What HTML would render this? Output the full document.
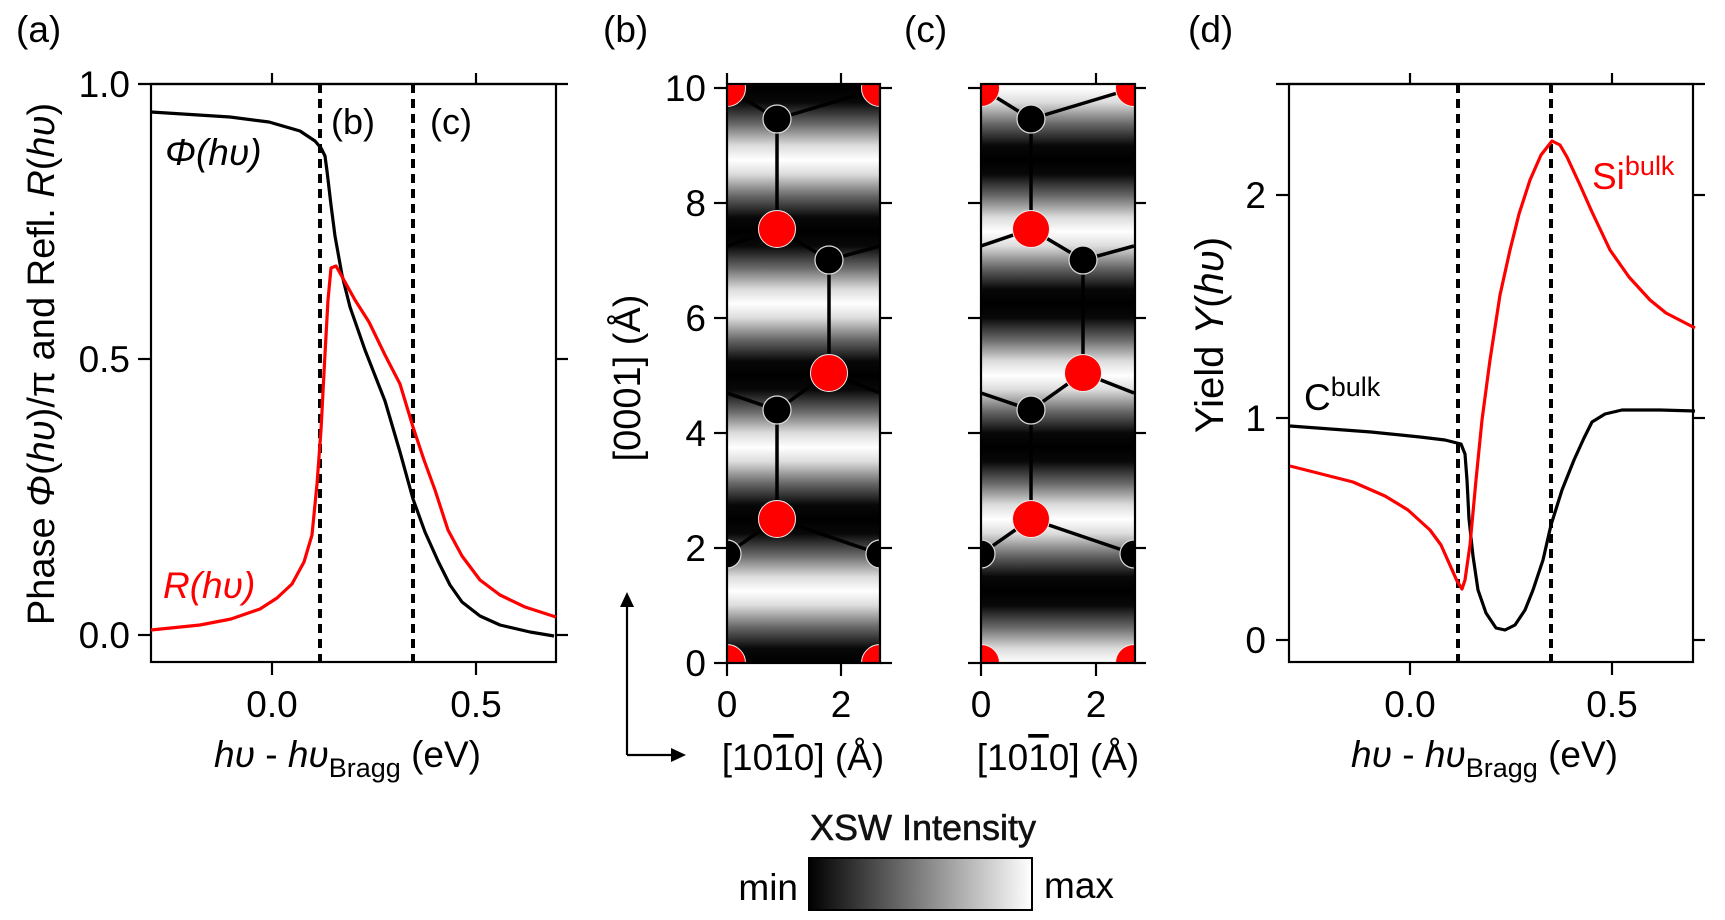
<!DOCTYPE html>
<html><head><meta charset="utf-8"><style>
html,body{margin:0;padding:0;background:#fff;}
svg{display:block;font-family:"Liberation Sans",sans-serif;}
</style></head><body>
<svg width="1725" height="920" viewBox="0 0 1725 920" xmlns="http://www.w3.org/2000/svg">
<defs>
<linearGradient id="gb" gradientUnits="userSpaceOnUse" x1="0" y1="663" x2="0" y2="519.25" spreadMethod="repeat">
<stop offset="0" stop-color="#000"/><stop offset="0.1" stop-color="#080808"/><stop offset="0.25" stop-color="#686868"/><stop offset="0.4" stop-color="#dcdcdc"/><stop offset="0.5" stop-color="#fff"/><stop offset="0.6" stop-color="#dcdcdc"/><stop offset="0.75" stop-color="#686868"/><stop offset="0.9" stop-color="#080808"/><stop offset="1" stop-color="#000"/>
</linearGradient>
<linearGradient id="gc" gradientUnits="userSpaceOnUse" x1="0" y1="591.1" x2="0" y2="447.35" spreadMethod="repeat">
<stop offset="0" stop-color="#000"/><stop offset="0.1" stop-color="#080808"/><stop offset="0.25" stop-color="#686868"/><stop offset="0.4" stop-color="#dcdcdc"/><stop offset="0.5" stop-color="#fff"/><stop offset="0.6" stop-color="#dcdcdc"/><stop offset="0.75" stop-color="#686868"/><stop offset="0.9" stop-color="#080808"/><stop offset="1" stop-color="#000"/>
</linearGradient>
<linearGradient id="cb" x1="0" y1="0" x2="1" y2="0">
<stop offset="0" stop-color="#000"/><stop offset="1" stop-color="#fff"/>
</linearGradient>
<clipPath id="clb"><rect x="727" y="84" width="153" height="579"/></clipPath>
<clipPath id="clc"><rect x="981" y="84" width="154" height="579"/></clipPath>
<g id="atoms">
<g stroke="#000" stroke-width="3.5" fill="none">
<line x1="50" y1="-544" x2="0" y2="-575"/>
<line x1="50" y1="-544" x2="153" y2="-575"/>
<line x1="50" y1="-544" x2="50" y2="-434"/>
<line x1="50" y1="-434" x2="102" y2="-403"/>
<line x1="50" y1="-434" x2="0" y2="-417"/>
<line x1="102" y1="-403" x2="153" y2="-417"/>
<line x1="102" y1="-403" x2="102" y2="-290"/>
<line x1="102" y1="-290" x2="50" y2="-253"/>
<line x1="102" y1="-290" x2="153" y2="-270"/>
<line x1="50" y1="-253" x2="0" y2="-270"/>
<line x1="50" y1="-253" x2="50" y2="-144"/>
<line x1="50" y1="-144" x2="0" y2="-109"/>
<line x1="50" y1="-144" x2="153" y2="-109"/>
</g>
<g fill="#000" stroke="#ddd" stroke-width="1.2">
<circle cx="50" cy="-544" r="14"/><circle cx="102" cy="-403" r="14"/><circle cx="50" cy="-253" r="14"/>
<circle cx="0" cy="-109" r="14"/><circle cx="153" cy="-109" r="14"/>
</g>
<g fill="#f00" stroke="#eee" stroke-width="1">
<circle cx="50" cy="-434" r="18.5"/><circle cx="102" cy="-290" r="18.5"/><circle cx="50" cy="-144" r="18.5"/>
<circle cx="0" cy="0" r="18.5"/><circle cx="153" cy="0" r="18.5"/><circle cx="0" cy="-575" r="18.5"/><circle cx="153" cy="-575" r="18.5"/>
</g>
</g>
</defs>

<g font-size="37" fill="#000">
<text x="16" y="42">(a)</text>
<text x="603" y="42">(b)</text>
<text x="904" y="42">(c)</text>
<text x="1188" y="42">(d)</text>
</g>

<!-- ===== Panel (a) ===== -->
<g stroke="#000" stroke-width="2.2" fill="none">
<line x1="138" y1="84" x2="568" y2="84"/>
<rect x="151" y="84" width="405" height="578"/>
<line x1="138" y1="635" x2="151" y2="635"/><line x1="138" y1="359" x2="151" y2="359"/>
<line x1="556" y1="635" x2="568" y2="635"/><line x1="556" y1="359" x2="568" y2="359"/>
<line x1="272" y1="84" x2="272" y2="73"/><line x1="476" y1="84" x2="476" y2="73"/>
<line x1="272" y1="662" x2="272" y2="675"/><line x1="476" y1="662" x2="476" y2="675"/>
</g>
<g stroke="#000" stroke-width="4" stroke-dasharray="9,6">
<line x1="320" y1="84" x2="320" y2="662"/><line x1="413" y1="84" x2="413" y2="662"/>
</g>
<path d="M151,112 L230,117 L269,122 L300,131 L315,141 L321,148 L325,156 L327,171 L331,205 L335,236 L342,275 L350,307 L365,350 L385,401 L400,452 L413,499 L425,532 L438,561 L450,585 L462,602 L480,616 L500,625 L530,632 L554,636" fill="none" stroke="#000" stroke-width="3.2" stroke-linejoin="round"/>
<path d="M151,630 L200,625 L231,619 L260,609 L277,598 L292,584 L304,562 L312,535 L317,484 L321,430 L325,354 L328,300 L331,268 L336,266 L340,273 L355,300 L369,322 L385,355 L400,384 L413,427 L424,460 L435,490 L448,530 L462,556 L480,580 L500,595 L525,607 L556,617" fill="none" stroke="#f00" stroke-width="3.2" stroke-linejoin="round"/>
<g font-size="37" fill="#000" text-anchor="end">
<text x="130" y="97">1.0</text><text x="130" y="372">0.5</text><text x="130" y="648">0.0</text>
</g>
<g font-size="37" fill="#000" text-anchor="middle">
<text x="272" y="717">0.0</text><text x="476" y="717">0.5</text>
</g>
<text x="214" y="767" font-size="37"><tspan font-style="italic">hυ</tspan> - <tspan font-style="italic">hυ</tspan><tspan font-size="27" dy="10">Bragg</tspan><tspan dy="-10"> (eV)</tspan></text>
<text transform="translate(54,364) rotate(-90)" font-size="38" text-anchor="middle">Phase <tspan font-style="italic">Φ</tspan>(<tspan font-style="italic">hυ</tspan>)/π and Refl. <tspan font-style="italic">R</tspan>(<tspan font-style="italic">hυ</tspan>)</text>
<text x="165" y="165" font-size="37" font-style="italic">Φ(hυ)</text>
<text x="163" y="598" font-size="37" font-style="italic" fill="#f00">R(hυ)</text>
<text x="331" y="134" font-size="36">(b)</text>
<text x="430" y="134" font-size="36">(c)</text>

<!-- ===== Panel (b) ===== -->
<rect x="727" y="84" width="153" height="579" fill="url(#gb)"/>
<g clip-path="url(#clb)"><use href="#atoms" transform="translate(727,663)"/></g>
<g stroke="#000" stroke-width="2.2" fill="none">
<rect x="727" y="84" width="153" height="579"/>
<line x1="714" y1="88" x2="727" y2="88"/><line x1="714" y1="203" x2="727" y2="203"/><line x1="714" y1="318" x2="727" y2="318"/><line x1="714" y1="433" x2="727" y2="433"/><line x1="714" y1="548" x2="727" y2="548"/><line x1="714" y1="663" x2="727" y2="663"/>
<line x1="880" y1="88" x2="892" y2="88"/><line x1="880" y1="203" x2="892" y2="203"/><line x1="880" y1="318" x2="892" y2="318"/><line x1="880" y1="433" x2="892" y2="433"/><line x1="880" y1="548" x2="892" y2="548"/><line x1="880" y1="663" x2="892" y2="663"/>
<line x1="727" y1="84" x2="727" y2="73"/><line x1="841" y1="84" x2="841" y2="73"/>
<line x1="727" y1="663" x2="727" y2="676"/><line x1="841" y1="663" x2="841" y2="676"/>
</g>
<g font-size="37" text-anchor="end">
<text x="706" y="101">10</text><text x="706" y="216">8</text><text x="706" y="331">6</text><text x="706" y="446">4</text><text x="706" y="561">2</text><text x="706" y="676">0</text>
</g>
<g font-size="37" text-anchor="middle">
<text x="727" y="717">0</text><text x="841" y="717">2</text>
</g>
<text x="803" y="770" font-size="37" text-anchor="middle">[10<tspan text-decoration="overline">1</tspan>0] (Å)</text>
<text transform="translate(640,378) rotate(-90)" font-size="38" text-anchor="middle">[0001] (Å)</text>
<g stroke="#000" stroke-width="2.2"><line x1="627" y1="755" x2="627" y2="603"/><line x1="627" y1="755" x2="676" y2="755"/></g>
<polygon points="627,592 620,607 634,607" fill="#000"/>
<polygon points="686,755 671,748 671,762" fill="#000"/>

<!-- ===== Panel (c) ===== -->
<rect x="981" y="84" width="154" height="579" fill="url(#gc)"/>
<g clip-path="url(#clc)"><use href="#atoms" transform="translate(981,663)"/></g>
<g stroke="#000" stroke-width="2.2" fill="none">
<rect x="981" y="84" width="154" height="579"/>
<line x1="968" y1="88" x2="981" y2="88"/><line x1="968" y1="203" x2="981" y2="203"/><line x1="968" y1="318" x2="981" y2="318"/><line x1="968" y1="433" x2="981" y2="433"/><line x1="968" y1="548" x2="981" y2="548"/><line x1="968" y1="663" x2="981" y2="663"/>
<line x1="1135" y1="88" x2="1146" y2="88"/><line x1="1135" y1="203" x2="1146" y2="203"/><line x1="1135" y1="318" x2="1146" y2="318"/><line x1="1135" y1="433" x2="1146" y2="433"/><line x1="1135" y1="548" x2="1146" y2="548"/><line x1="1135" y1="663" x2="1146" y2="663"/>
<line x1="1096" y1="84" x2="1096" y2="73"/>
<line x1="981" y1="663" x2="981" y2="676"/><line x1="1096" y1="663" x2="1096" y2="676"/>
</g>
<g font-size="37" text-anchor="middle">
<text x="981" y="717">0</text><text x="1096" y="717">2</text>
</g>
<text x="1058" y="770" font-size="37" text-anchor="middle">[10<tspan text-decoration="overline">1</tspan>0] (Å)</text>

<text x="923" y="840" font-size="36" text-anchor="middle" fill="#111" stroke="#111" stroke-width="0.6">XSW Intensity</text>
<rect x="809" y="858" width="223" height="52" fill="url(#cb)" stroke="#000" stroke-width="2"/>
<text x="798" y="900" font-size="37" text-anchor="end">min</text>
<text x="1044" y="898" font-size="37">max</text>

<!-- ===== Panel (d) ===== -->
<g stroke="#000" stroke-width="2.2" fill="none">
<line x1="1276" y1="84" x2="1705" y2="84"/>
<rect x="1289" y="84" width="404" height="578"/>
<line x1="1276" y1="640" x2="1289" y2="640"/><line x1="1276" y1="418" x2="1289" y2="418"/><line x1="1276" y1="195" x2="1289" y2="195"/>
<line x1="1693" y1="640" x2="1705" y2="640"/><line x1="1693" y1="418" x2="1705" y2="418"/><line x1="1693" y1="195" x2="1705" y2="195"/>
<line x1="1410" y1="84" x2="1410" y2="73"/><line x1="1612" y1="84" x2="1612" y2="73"/>
<line x1="1410" y1="662" x2="1410" y2="675"/><line x1="1612" y1="662" x2="1612" y2="675"/>
</g>
<g stroke="#000" stroke-width="4" stroke-dasharray="9,6">
<line x1="1458" y1="84" x2="1458" y2="662"/><line x1="1551" y1="84" x2="1551" y2="662"/>
</g>
<path d="M1290,426 L1371,432 L1420,437 L1445,440 L1461,444 L1465,454 L1467,480 L1469,519 L1473,556 L1478,590 L1486,613 L1496,628 L1505,630 L1515,625 L1525,610 L1533,590 L1543,560 L1551,525 L1562,490 L1574,460 L1584,438 L1592,422 L1605,414 L1622,410 L1660,410 L1695,411" fill="none" stroke="#000" stroke-width="3.2" stroke-linejoin="round"/>
<path d="M1290,466 L1353,482 L1385,496 L1408,510 L1430,530 L1441,545 L1457,581 L1462,589 L1465,580 L1470,545 L1476,480 L1482,420 L1490,360 L1500,295 L1510,250 L1519,214 L1530,180 L1541,155 L1552,141 L1560,145 L1567,157 L1580,185 L1592,212 L1610,250 L1629,277 L1650,300 L1666,313 L1695,328" fill="none" stroke="#f00" stroke-width="3.2" stroke-linejoin="round"/>
<g font-size="37" text-anchor="end">
<text x="1266" y="208">2</text><text x="1266" y="431">1</text><text x="1266" y="653">0</text>
</g>
<g font-size="37" text-anchor="middle">
<text x="1410" y="717">0.0</text><text x="1612" y="717">0.5</text>
</g>
<text x="1351" y="767" font-size="37"><tspan font-style="italic">hυ</tspan> - <tspan font-style="italic">hυ</tspan><tspan font-size="27" dy="10">Bragg</tspan><tspan dy="-10"> (eV)</tspan></text>
<text transform="translate(1223,335) rotate(-90)" font-size="40" text-anchor="middle">Yield <tspan font-style="italic">Y</tspan>(<tspan font-style="italic">hυ</tspan>)</text>
<text x="1304" y="410" font-size="37">C<tspan font-size="27" dy="-14">bulk</tspan></text>
<text x="1592" y="189" font-size="37" fill="#f00">Si<tspan font-size="27" dy="-14">bulk</tspan></text>
</svg>
</body></html>
